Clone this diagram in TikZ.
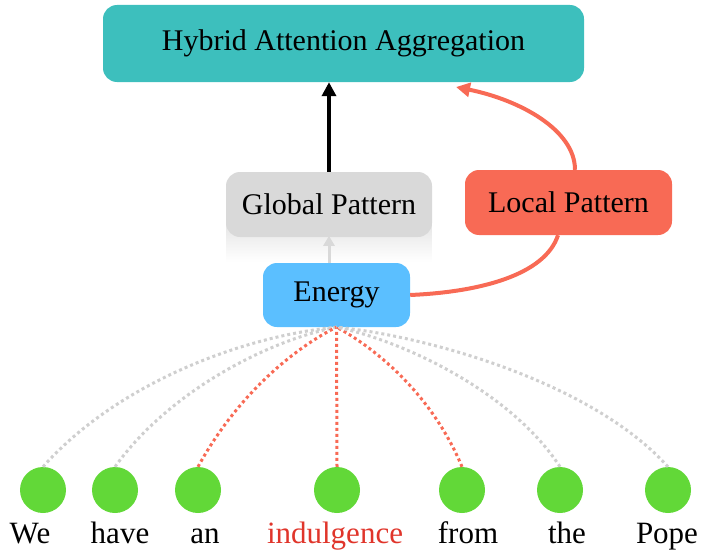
\documentclass[tikz,border=0pt]{standalone}
\usepackage{fontspec}
\setmainfont{Liberation Serif}
\usetikzlibrary{arrows.meta,fadings}
\definecolor{teal1}{HTML}{3DBFBD}
\definecolor{gray1}{HTML}{D9D9D9}
\definecolor{red1}{HTML}{F86A55}
\definecolor{red2}{HTML}{E0352B}
\definecolor{blue1}{HTML}{5BBFFF}
\definecolor{green1}{HTML}{62D838}
\definecolor{dotg}{HTML}{CFCFCF}
\tikzset{box/.style={rounded corners=14pt,draw=none,font=\fontsize{30}{34}\selectfont,inner sep=0pt},
 w/.style={font=\fontsize{31}{34}\selectfont,anchor=base},
 dot/.style={circle,fill=green1,minimum width=42pt,minimum height=46pt,inner sep=0pt},
 dl/.style={line width=3pt,dash pattern=on 3pt off 3pt}}
\begin{document}
\begin{tikzpicture}[x=1pt,y=-1pt]
\useasboundingbox (0,0) rectangle (701,551);
\fill[gray1,path fading=south] (226,205) rectangle (432,262);
\node[box,fill=teal1,minimum width=481pt,minimum height=77pt] (hybrid) at (343.5,43.5) {Hybrid Attention Aggregation};
\node[box,fill=gray1,minimum width=206pt,minimum height=65pt] (global) at (329,204.5) {Global Pattern};
\node[box,fill=red1,minimum width=207pt,minimum height=65pt] (local) at (568.5,202.5) {Local Pattern};
\node[box,fill=blue1,minimum width=147pt,minimum height=64pt] (energy) at (336.5,295) {Energy};
\draw[line width=4pt,-{Triangle[length=14pt,width=14pt]}] (global.north) -- (hybrid.south -| global.north);
\draw[line width=3pt,gray1,-{Triangle[length=10pt,width=11pt]}] (energy.north -| global.south) -- ++(0,-27);
\draw[line width=4pt,red1] (energy.east) .. controls (480,292) and (545,275) .. (local.south -| 558,0);
\coordinate (tip) at (456,87);
\draw[line width=4pt,red1,-{Triangle[length=14pt,width=14pt]}] (local.north -| 575,0) .. controls (575,130) and (520,100) .. (tip);
\foreach \n/\x in {a/43,b/115,c/198,d/337,e/462,f/560,g/668}{
 \node[dot] (\n) at (\x,490) {};
}
\node[w] at (30,543) {We};
\node[w] at (120,543) {have};
\node[w] at (205,543) {an};
\node[w,text=red2] at (335,543) {indulgence};
\node[w] at (468,543) {from};
\node[w] at (567,543) {the};
\node[w] at (667,543) {Pope};
\draw[dl,dotg] (a.north) .. controls (120,380) and (250,335) .. (energy.south);
\draw[dl,dotg] (b.north) .. controls (170,390) and (270,340) .. (energy.south);
\draw[dl,red1] (c.north) .. controls (240,390) and (300,345) .. (energy.south);
\draw[dl,red1] (d.north) -- (energy.south);
\draw[dl,red1] (e.north) .. controls (430,390) and (370,345) .. (energy.south);
\draw[dl,dotg] (f.north) .. controls (510,390) and (400,340) .. (energy.south);
\draw[dl,dotg] (g.north) .. controls (590,380) and (420,335) .. (energy.south);
\end{tikzpicture}
\end{document}
